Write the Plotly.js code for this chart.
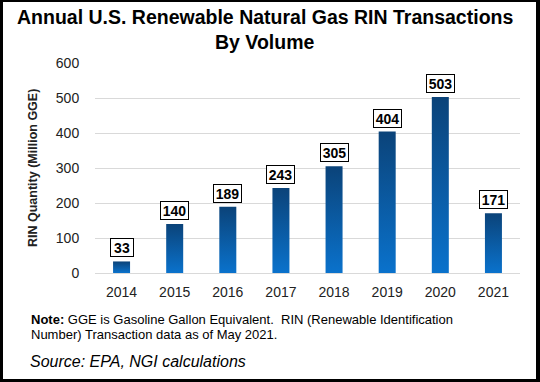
<!DOCTYPE html>
<html>
<head>
<meta charset="utf-8">
<script src="https://cdn.plot.ly/plotly-3.0.1.min.js"></script>
<style>
  html, body { margin: 0; padding: 0; background: #fff; }
  #wrap { position: absolute; left: 0; top: 0; width: 540px; height: 382px; box-sizing: border-box;
          border-style: solid; border-color: #000; border-width: 2px 4px 3px 3px; background: #fff; }
  #chart { width: 533px; height: 377px; }
</style>
</head>
<body>
<div id="wrap"><div id="chart"></div></div>
<script>
const years = [2014, 2015, 2016, 2017, 2018, 2019, 2020, 2021];
const volumes = [33, 140, 189, 243, 305, 404, 503, 171];
const yTicks = [0, 100, 200, 300, 400, 500, 600];

const FONT = 'Arial, "Liberation Sans", sans-serif';
const W = 533, H = 377;
const ML = 92, MR = 16, MT = 61, MB = 106;
const PW = W - ML - MR, PH = H - MT - MB;
const px = x => (x - ML) / PW;          // container px -> paper x
const py = y => (H - MB - y) / PH;      // container px -> paper y

const labelAnn = years.map((yr, i) => ({
  x: yr, y: volumes[i], xref: 'x', yref: 'y',
  text: '<b>' + volumes[i] + '</b>', showarrow: false,
  yanchor: 'bottom', xanchor: 'center', yshift: 4,
  font: { family: FONT, size: 14, color: '#000' },
  bgcolor: '#fff', bordercolor: '#000', borderwidth: 1, borderpad: 1,
  width: String(volumes[i]).length * 5 + 10, height: 15
}));

const otherAnn = [
  { text: '<b>Annual U.S. Renewable Natural Gas RIN Transactions</b>', xref: 'paper', yref: 'paper',
    x: px(261.5), y: py(15), xanchor: 'center', yanchor: 'middle', showarrow: false,
    font: { family: FONT, size: 19.5, color: '#000' } },
  { text: '<b>By Volume</b>', xref: 'paper', yref: 'paper',
    x: px(261.5), y: py(40), xanchor: 'center', yanchor: 'middle', showarrow: false,
    font: { family: FONT, size: 19.5, color: '#000' } },
  { text: '<b>RIN Quantity (Million GGE)</b>', xref: 'paper', yref: 'paper',
    x: px(30), y: 0.5, textangle: -90, showarrow: false, xanchor: 'center', yanchor: 'middle',
    font: { family: FONT, size: 12.5, color: '#222' } },
  { text: '<b>Note:</b> GGE is Gasoline Gallon Equivalent.\u00a0 RIN (Renewable Identification',
    xref: 'paper', yref: 'paper', x: px(26), y: py(317.5), xanchor: 'left', yanchor: 'middle', align: 'left',
    showarrow: false, font: { family: FONT, size: 13, color: '#000' } },
  { text: 'Number) Transaction data as of May 2021.',
    xref: 'paper', yref: 'paper', x: px(26), y: py(332), xanchor: 'left', yanchor: 'middle', align: 'left',
    showarrow: false, font: { family: FONT, size: 13, color: '#000' } },
  { text: '<i>Source: EPA, NGI calculations</i>',
    xref: 'paper', yref: 'paper', x: px(25), y: py(359), xanchor: 'left', yanchor: 'middle', align: 'left',
    showarrow: false, font: { family: FONT, size: 16, color: '#000' } }
];

const data = [{
  type: 'bar', x: years, y: volumes,
  marker: { color: '#0a5aa0', line: { width: 0 } },
  hoverinfo: 'none'
}];

const layout = {
  width: W, height: H,
  margin: { l: ML, r: MR, t: MT, b: MB, pad: 0 },
  paper_bgcolor: '#fff', plot_bgcolor: '#fff',
  showlegend: false,
  bargap: 0.68,
  xaxis: {
    type: 'linear', range: [years[0] - 0.5, years[years.length - 1] + 0.5],
    tickvals: years, ticktext: years.map(String),
    showgrid: false, zeroline: false, showline: false,
    ticks: 'outside', ticklen: 6, tickcolor: 'rgba(0,0,0,0)',
    tickfont: { family: FONT, size: 14, color: '#222' }
  },
  yaxis: {
    range: [0, 600], tickvals: yTicks, showgrid: true, gridcolor: '#d9d9d9', gridwidth: 1,
    zeroline: true, zerolinecolor: '#d9d9d9', zerolinewidth: 1, showline: false,
    ticks: 'outside', ticklen: 12, tickcolor: 'rgba(0,0,0,0)',
    tickfont: { family: FONT, size: 14, color: '#222' }
  },
  annotations: labelAnn.concat(otherAnn)
};

Plotly.newPlot('chart', data, layout, { displayModeBar: false, staticPlot: true }).then(gd => {
  const svg = gd.querySelector('svg.main-svg');
  const ns = 'http://www.w3.org/2000/svg';
  let defs = svg.querySelector('defs');
  if (!defs) { defs = document.createElementNS(ns, 'defs'); svg.insertBefore(defs, svg.firstChild); }
  const lg = document.createElementNS(ns, 'linearGradient');
  lg.setAttribute('id', 'barGrad');
  lg.setAttribute('x1', '0'); lg.setAttribute('y1', '0');
  lg.setAttribute('x2', '0'); lg.setAttribute('y2', '1');
  [['0', '#0b4379'], ['1', '#0a72cc']].forEach(([o, c]) => {
    const s = document.createElementNS(ns, 'stop');
    s.setAttribute('offset', o); s.setAttribute('stop-color', c);
    lg.appendChild(s);
  });
  defs.appendChild(lg);
  gd.querySelectorAll('.barlayer .point path').forEach(p => {
    p.style.fill = 'url(#barGrad)';
  });
});
</script>
</body>
</html>
